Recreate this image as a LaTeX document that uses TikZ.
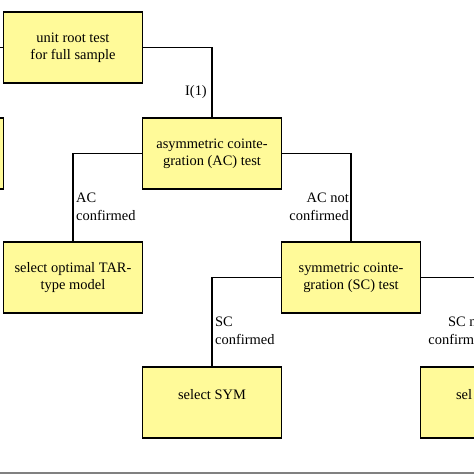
\documentclass[tikz,border=0pt]{standalone}
\usepackage{fontspec}
\setmainfont{Liberation Serif}
\definecolor{boxfill}{HTML}{FFFA99}
\definecolor{bandgray}{HTML}{808080}
\begin{document}
\begin{tikzpicture}[x=1bp,y=-1bp,
  box/.style={draw=black, line width=1.6bp, fill=boxfill, minimum width=139bp, minimum height=71bp,
    inner sep=0pt, align=center, font=\fontsize{14.5}{17}\selectfont},
  lbl/.style={inner sep=0pt, font=\fontsize{14.5}{18}\selectfont},
  conn/.style={line width=1.5bp, draw=black}]
\useasboundingbox (0,0) rectangle (474,474);
\clip (0,0) rectangle (474,474);
\fill[white] (0,0) rectangle (474,474);
% boxes
\node[box] (root) at (73,47.5) {unit root test\\for full sample};
\node[box] (lft) at (-66,153.5) {};
\node[box] (ac) at (212,153.5) {asymmetric cointe-\\gration (AC) test};
\node[box] (tar) at (73,277.5) {select optimal TAR-\\type model};
\node[box] (sc) at (351,277.5) {symmetric cointe-\\gration (SC) test};
\node[box] (sym) at (212,402.5) {select SYM\\\mbox{}};
\node[box] (rgt) at (490,402.5) {sel\phantom{ect SYM}\\\mbox{}};
% connectors
\draw[conn] (root.east) -| (ac.north);
\draw[conn] (root.west) -| (lft.north);
\draw[conn] (ac.west) -| (tar.north);
\draw[conn] (ac.east) -| (sc.north);
\draw[conn] (sc.west) -| (sym.north);
\draw[conn] (sc.east) -| (rgt.north);
% labels
\node[lbl, anchor=east] (l1) at (207,92) {I(1)};
\node[lbl, anchor=west, align=left] (l2) at (76,207) {AC\\confirmed};
\node[lbl, anchor=east, align=right] (l3) at (349,207) {AC not\\confirmed};
\node[lbl, anchor=west, align=left] (l4) at (215,331) {SC\\confirmed};
\node[lbl, anchor=east, align=right] (l5) at (488,331) {SC not\\confirmed};
% bottom band
\fill[bandgray] (0,472) rectangle (474,474);
\end{tikzpicture}
\end{document}
